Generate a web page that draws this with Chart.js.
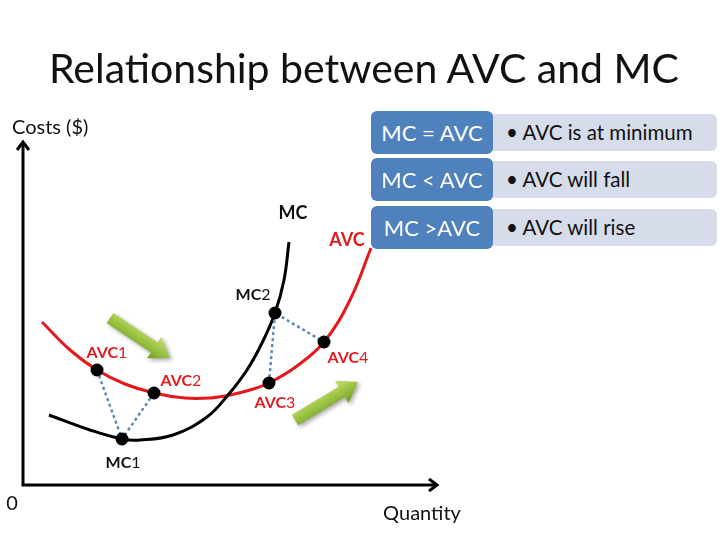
<!DOCTYPE html>
<html>
<head>
<meta charset="utf-8">
<script src="https://cdn.jsdelivr.net/npm/chart.js@4.4.1/dist/chart.umd.min.js"></script>
<style>
  html, body { margin: 0; padding: 0; background: #fff; }
  #wrap { position: relative; width: 728px; height: 546px; overflow: hidden; font-family: Lato, "Open Sans", sans-serif; }
  #wrap canvas { position: absolute; left: 0; top: 0; }
  h1 { position: absolute; left: 0; top: 44px; width: 728px; margin: 0; text-align: center;
       font-weight: 400; font-size: 41px; line-height: 48px; color: #111; }
  .row { position: absolute; left: 371px; width: 346px; height: 43px; }
  .key { position: absolute; left: 0; top: 0; width: 122px; height: 43px; background: #4f81bd;
         border-radius: 6px; color: #fff; font-size: 22px; line-height: 43px; text-align: center; z-index: 2; }
  .note { position: absolute; left: 112px; top: 3px; right: 0; height: 37px; background: #d6dce9;
          border-radius: 6px; color: #111; font-size: 20.5px; line-height: 37px; padding-left: 23px; }
</style>
</head>
<body>
<div id="wrap">
  <canvas id="chart"></canvas>
  <h1>Relationship between AVC and MC</h1>
  <div id="rules"></div>
</div>
<script>
/* ---------- DATA ---------- */
// curves, in quantity / cost units (origin at the axes' corner)
const avcX = [19, 47, 74, 102, 131, 162, 187, 207, 227, 246, 274, 301, 327, 348];
const avcY = [163, 135, 115, 101, 92, 87, 87, 90, 95, 102, 119, 143, 185, 237];
const mcX = [26, 67, 99, 117, 150, 184, 205, 224, 239, 252, 261, 266];
const mcY = [70, 55, 46, 45, 50, 68, 90, 115, 142, 172, 205, 243];

// marked points
const pointNames = ["AVC1", "AVC2", "AVC3", "AVC4", "MC1", "MC2"];
const pointX = [74, 131, 246, 301, 99, 252];
const pointY = [115, 92, 102, 143, 46, 172];

// dotted links between marked points
const linkA = ["AVC1", "MC1", "AVC2"];
const linkB = ["AVC3", "MC2", "AVC4"];

// rule boxes
const ruleKeys = ["MC = AVC", "MC < AVC", "MC >AVC"];
const ruleNotes = ["AVC is at minimum", "AVC will fall", "AVC will rise"];

// axis range
const qtyMax = 415;
const costMax = 344;

/* ---------- HELPERS ---------- */
const RED = "#e3191e";
const pt = name => {
  const i = pointNames.indexOf(name);
  return { x: pointX[i], y: pointY[i] };
};

const rules = document.getElementById("rules");
const ruleTops = [111, 158, 206];
ruleKeys.forEach((k, i) => {
  const row = document.createElement("div");
  row.className = "row";
  row.style.top = ruleTops[i] + "px";
  row.innerHTML = '<div class="key"></div><div class="note"></div>';
  row.children[0].textContent = k;
  row.children[1].textContent = "\u2022 " + ruleNotes[i];
  rules.appendChild(row);
});

/* ---------- DRAWING PLUGIN ---------- */
// label offsets (px) from each marked point
const labelStyle = {
  AVC1: { dx: 10, dy: -17, color: RED },
  AVC2: { dx: 27, dy: -12, color: RED },
  AVC3: { dx: 6, dy: 20, color: RED },
  AVC4: { dx: 24, dy: 16, color: RED },
  MC1:  { dx: 1, dy: 24, color: "#111" },
  MC2:  { dx: -22, dy: -18, color: "#111" }
};

function splitLabel(ctx, text, cx, cy, color) {
  const head = text.replace(/\d+$/, "");
  const tail = text.slice(head.length);
  ctx.font = "bold 16px Lato";
  const w1 = ctx.measureText(head).width;
  ctx.font = "16px Lato";
  const w2 = ctx.measureText(tail).width;
  const x = cx - (w1 + w2) / 2;
  ctx.fillStyle = color;
  ctx.textAlign = "left";
  ctx.textBaseline = "middle";
  ctx.font = "bold 16px Lato";
  ctx.fillText(head, x, cy);
  ctx.font = "16px Lato";
  ctx.fillText(tail, x + w1, cy);
}

function drawArrow(ctx, x1, y1, x2, y2) {
  const len = Math.hypot(x2 - x1, y2 - y1);
  const ang = Math.atan2(y2 - y1, x2 - x1);
  const bw = 6, hw = 13, hl = 19;
  ctx.save();
  ctx.translate(x1, y1);
  ctx.rotate(ang);
  const g = ctx.createLinearGradient(0, -hw, 0, hw);
  g.addColorStop(0, "#c6df74");
  g.addColorStop(0.5, "#9cc443");
  g.addColorStop(1, "#6f9a25");
  ctx.shadowColor = "rgba(0,0,0,0.35)";
  ctx.shadowBlur = 4;
  ctx.shadowOffsetX = 2;
  ctx.shadowOffsetY = 2;
  ctx.beginPath();
  ctx.moveTo(0, -bw);
  ctx.lineTo(len - hl, -bw);
  ctx.lineTo(len - hl, -hw);
  ctx.lineTo(len, 0);
  ctx.lineTo(len - hl, hw);
  ctx.lineTo(len - hl, bw);
  ctx.lineTo(0, bw);
  ctx.closePath();
  ctx.fillStyle = g;
  ctx.fill();
  ctx.restore();
}

// arrows given in data units: [fromQ, fromC, toQ, toC]
const arrows = [[87, 167, 147, 127], [272, 65, 335, 103]];

const diagram = {
  id: "diagram",
  beforeDatasetsDraw(chart) {
    const { ctx, scales: { x, y } } = chart;
    const x0 = x.getPixelForValue(0), y0 = y.getPixelForValue(0);
    const xe = x.getPixelForValue(qtyMax), ye = y.getPixelForValue(costMax);
    ctx.save();
    ctx.strokeStyle = "#000";
    ctx.lineWidth = 3;
    ctx.lineCap = "butt";
    ctx.beginPath();
    ctx.moveTo(x0, ye + 2);
    ctx.lineTo(x0, y0);
    ctx.lineTo(xe - 2, y0);
    ctx.stroke();
    ctx.lineJoin = "miter";
    ctx.beginPath();
    ctx.moveTo(x0 - 6, ye + 9); ctx.lineTo(x0, ye + 1); ctx.lineTo(x0 + 6, ye + 9);
    ctx.moveTo(xe - 9, y0 - 6); ctx.lineTo(xe - 1, y0); ctx.lineTo(xe - 9, y0 + 6);
    ctx.stroke();

    ctx.fillStyle = "#111";
    ctx.font = "20px Lato";
    ctx.textBaseline = "middle";
    ctx.textAlign = "left";
    ctx.fillText("Costs ($)", x0 - 11, ye - 13);
    ctx.textAlign = "center";
    ctx.fillText("0", x0 - 11, y0 + 19);
    ctx.fillText("Quantity", xe - 16, y0 + 29);
    ctx.restore();
  },
  afterDatasetsDraw(chart) {
    const { ctx, scales: { x, y } } = chart;
    ctx.save();
    pointNames.forEach(n => {
      const p = pt(n), s = labelStyle[n];
      splitLabel(ctx, n, x.getPixelForValue(p.x) + s.dx, y.getPixelForValue(p.y) + s.dy, s.color);
    });
    // curve names
    ctx.textAlign = "center";
    ctx.textBaseline = "middle";
    ctx.font = "bold 18px Lato";
    ctx.fillStyle = "#111";
    ctx.fillText("MC", x.getPixelForValue(mcX[mcX.length - 1]) + 4, y.getPixelForValue(mcY[mcY.length - 1]) - 29);
    ctx.fillStyle = RED;
    ctx.fillText("AVC", x.getPixelForValue(avcX[avcX.length - 1]) - 24, y.getPixelForValue(avcY[avcY.length - 1]) - 8);
    arrows.forEach(a => drawArrow(ctx,
      x.getPixelForValue(a[0]), y.getPixelForValue(a[1]),
      x.getPixelForValue(a[2]), y.getPixelForValue(a[3])));
    ctx.restore();
  }
};

/* ---------- CHART ---------- */
const xy = (xs, ys) => xs.map((v, i) => ({ x: v, y: ys[i] }));
const dotted = {
  borderColor: "#5b88bd",
  borderWidth: 2.5,
  borderDash: [3, 3],
  pointRadius: 0,
  tension: 0,
  fill: false
};

new Chart(document.getElementById("chart"), {
  type: "line",
  data: {
    datasets: [
      {
        label: "points",
        data: xy(pointX, pointY),
        showLine: false,
        pointRadius: 6.5,
        pointBackgroundColor: "#000",
        pointBorderWidth: 0
      },
      Object.assign({ label: "link A", data: linkA.map(pt) }, dotted),
      Object.assign({ label: "link B", data: linkB.map(pt) }, dotted),
      {
        label: "MC",
        data: xy(mcX, mcY),
        borderColor: "#000",
        borderWidth: 3,
        pointRadius: 0,
        tension: 0.4,
        fill: false
      },
      {
        label: "AVC",
        data: xy(avcX, avcY),
        borderColor: RED,
        borderWidth: 3,
        pointRadius: 0,
        tension: 0.4,
        fill: false
      }
    ]
  },
  options: {
    responsive: true,
    maintainAspectRatio: false,
    animation: false,
    events: [],
    layout: { padding: { left: 23, right: 290, top: 141, bottom: 61 } },
    plugins: { legend: { display: false }, tooltip: { enabled: false } },
    scales: {
      x: { type: "linear", min: 0, max: qtyMax, display: false },
      y: { type: "linear", min: 0, max: costMax, display: false }
    }
  },
  plugins: [diagram]
});
</script>
<style>#chart{width:728px!important;height:546px!important;}</style>
</body>
</html>
